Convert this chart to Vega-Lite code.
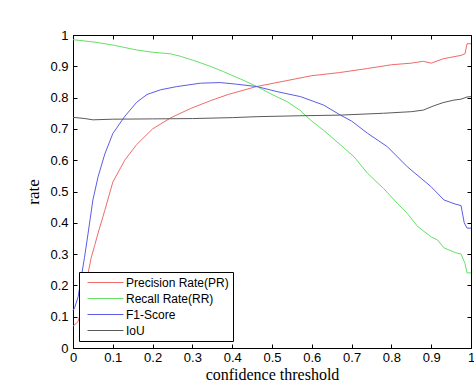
{
  "$schema": "https://vega.github.io/schema/vega-lite/v6.json",
  "width": 398,
  "height": 313,
  "autosize": "none",
  "padding": {"left": 73, "top": 35, "right": 3, "bottom": 33},
  "background": "white",
  "config": {"view": {"stroke": "black", "strokeWidth": 1}, "font": "Liberation Sans"},
  "data": {"values": [
    {"s": "Precision Rate(PR)", "t": 0, "v": 0.07}, {"s": "Precision Rate(PR)", "t": 0.005, "v": 0.075}, {"s": "Precision Rate(PR)", "t": 0.013, "v": 0.085}, {"s": "Precision Rate(PR)", "t": 0.02, "v": 0.12},
    {"s": "Precision Rate(PR)", "t": 0.03, "v": 0.19}, {"s": "Precision Rate(PR)", "t": 0.038, "v": 0.24}, {"s": "Precision Rate(PR)", "t": 0.046, "v": 0.29}, {"s": "Precision Rate(PR)", "t": 0.055, "v": 0.33},
    {"s": "Precision Rate(PR)", "t": 0.063, "v": 0.367}, {"s": "Precision Rate(PR)", "t": 0.08, "v": 0.44}, {"s": "Precision Rate(PR)", "t": 0.1, "v": 0.53}, {"s": "Precision Rate(PR)", "t": 0.13, "v": 0.6},
    {"s": "Precision Rate(PR)", "t": 0.16, "v": 0.65}, {"s": "Precision Rate(PR)", "t": 0.2, "v": 0.7}, {"s": "Precision Rate(PR)", "t": 0.245, "v": 0.735}, {"s": "Precision Rate(PR)", "t": 0.295, "v": 0.765},
    {"s": "Precision Rate(PR)", "t": 0.345, "v": 0.79}, {"s": "Precision Rate(PR)", "t": 0.39, "v": 0.81}, {"s": "Precision Rate(PR)", "t": 0.46, "v": 0.835}, {"s": "Precision Rate(PR)", "t": 0.54, "v": 0.855},
    {"s": "Precision Rate(PR)", "t": 0.6, "v": 0.87}, {"s": "Precision Rate(PR)", "t": 0.67, "v": 0.88}, {"s": "Precision Rate(PR)", "t": 0.74, "v": 0.893}, {"s": "Precision Rate(PR)", "t": 0.8, "v": 0.905},
    {"s": "Precision Rate(PR)", "t": 0.85, "v": 0.91}, {"s": "Precision Rate(PR)", "t": 0.88, "v": 0.916}, {"s": "Precision Rate(PR)", "t": 0.9, "v": 0.91}, {"s": "Precision Rate(PR)", "t": 0.93, "v": 0.924},
    {"s": "Precision Rate(PR)", "t": 0.975, "v": 0.935}, {"s": "Precision Rate(PR)", "t": 0.985, "v": 0.94}, {"s": "Precision Rate(PR)", "t": 0.99, "v": 0.972}, {"s": "Precision Rate(PR)", "t": 1, "v": 0.972},

    {"s": "Recall Rate(RR)", "t": 0, "v": 0.985}, {"s": "Recall Rate(RR)", "t": 0.05, "v": 0.978}, {"s": "Recall Rate(RR)", "t": 0.1, "v": 0.968}, {"s": "Recall Rate(RR)", "t": 0.16, "v": 0.952},
    {"s": "Recall Rate(RR)", "t": 0.2, "v": 0.945}, {"s": "Recall Rate(RR)", "t": 0.244, "v": 0.94}, {"s": "Recall Rate(RR)", "t": 0.27, "v": 0.932}, {"s": "Recall Rate(RR)", "t": 0.3, "v": 0.92},
    {"s": "Recall Rate(RR)", "t": 0.345, "v": 0.9}, {"s": "Recall Rate(RR)", "t": 0.378, "v": 0.883}, {"s": "Recall Rate(RR)", "t": 0.42, "v": 0.86}, {"s": "Recall Rate(RR)", "t": 0.463, "v": 0.835},
    {"s": "Recall Rate(RR)", "t": 0.5, "v": 0.81}, {"s": "Recall Rate(RR)", "t": 0.538, "v": 0.787}, {"s": "Recall Rate(RR)", "t": 0.57, "v": 0.76}, {"s": "Recall Rate(RR)", "t": 0.597, "v": 0.728},
    {"s": "Recall Rate(RR)", "t": 0.63, "v": 0.695}, {"s": "Recall Rate(RR)", "t": 0.672, "v": 0.649}, {"s": "Recall Rate(RR)", "t": 0.706, "v": 0.611}, {"s": "Recall Rate(RR)", "t": 0.74, "v": 0.558},
    {"s": "Recall Rate(RR)", "t": 0.78, "v": 0.51}, {"s": "Recall Rate(RR)", "t": 0.815, "v": 0.462}, {"s": "Recall Rate(RR)", "t": 0.84, "v": 0.43}, {"s": "Recall Rate(RR)", "t": 0.866, "v": 0.388},
    {"s": "Recall Rate(RR)", "t": 0.9, "v": 0.355}, {"s": "Recall Rate(RR)", "t": 0.916, "v": 0.345}, {"s": "Recall Rate(RR)", "t": 0.932, "v": 0.32}, {"s": "Recall Rate(RR)", "t": 0.96, "v": 0.305},
    {"s": "Recall Rate(RR)", "t": 0.975, "v": 0.3}, {"s": "Recall Rate(RR)", "t": 0.985, "v": 0.27}, {"s": "Recall Rate(RR)", "t": 0.99, "v": 0.24}, {"s": "Recall Rate(RR)", "t": 1, "v": 0.24},

    {"s": "F1-Score", "t": 0, "v": 0.12}, {"s": "F1-Score", "t": 0.004, "v": 0.128}, {"s": "F1-Score", "t": 0.013, "v": 0.164}, {"s": "F1-Score", "t": 0.021, "v": 0.228},
    {"s": "F1-Score", "t": 0.029, "v": 0.29}, {"s": "F1-Score", "t": 0.038, "v": 0.367}, {"s": "F1-Score", "t": 0.05, "v": 0.473}, {"s": "F1-Score", "t": 0.063, "v": 0.547},
    {"s": "F1-Score", "t": 0.08, "v": 0.62}, {"s": "F1-Score", "t": 0.1, "v": 0.685}, {"s": "F1-Score", "t": 0.13, "v": 0.74}, {"s": "F1-Score", "t": 0.16, "v": 0.785},
    {"s": "F1-Score", "t": 0.186, "v": 0.81}, {"s": "F1-Score", "t": 0.22, "v": 0.825}, {"s": "F1-Score", "t": 0.26, "v": 0.835}, {"s": "F1-Score", "t": 0.32, "v": 0.846},
    {"s": "F1-Score", "t": 0.37, "v": 0.848}, {"s": "F1-Score", "t": 0.41, "v": 0.843}, {"s": "F1-Score", "t": 0.463, "v": 0.835}, {"s": "F1-Score", "t": 0.513, "v": 0.819},
    {"s": "F1-Score", "t": 0.572, "v": 0.803}, {"s": "F1-Score", "t": 0.63, "v": 0.776}, {"s": "F1-Score", "t": 0.672, "v": 0.744}, {"s": "F1-Score", "t": 0.7, "v": 0.725},
    {"s": "F1-Score", "t": 0.74, "v": 0.686}, {"s": "F1-Score", "t": 0.79, "v": 0.643}, {"s": "F1-Score", "t": 0.84, "v": 0.579}, {"s": "F1-Score", "t": 0.9, "v": 0.515},
    {"s": "F1-Score", "t": 0.932, "v": 0.473}, {"s": "F1-Score", "t": 0.96, "v": 0.46}, {"s": "F1-Score", "t": 0.975, "v": 0.455}, {"s": "F1-Score", "t": 0.983, "v": 0.4},
    {"s": "F1-Score", "t": 0.99, "v": 0.383}, {"s": "F1-Score", "t": 1, "v": 0.383},

    {"s": "IoU", "t": 0, "v": 0.737}, {"s": "IoU", "t": 0.03, "v": 0.733}, {"s": "IoU", "t": 0.05, "v": 0.729}, {"s": "IoU", "t": 0.1, "v": 0.731},
    {"s": "IoU", "t": 0.2, "v": 0.732}, {"s": "IoU", "t": 0.3, "v": 0.733}, {"s": "IoU", "t": 0.4, "v": 0.736}, {"s": "IoU", "t": 0.46, "v": 0.739},
    {"s": "IoU", "t": 0.57, "v": 0.742}, {"s": "IoU", "t": 0.67, "v": 0.744}, {"s": "IoU", "t": 0.78, "v": 0.75}, {"s": "IoU", "t": 0.85, "v": 0.755},
    {"s": "IoU", "t": 0.88, "v": 0.76}, {"s": "IoU", "t": 0.907, "v": 0.774}, {"s": "IoU", "t": 0.93, "v": 0.784}, {"s": "IoU", "t": 0.957, "v": 0.792},
    {"s": "IoU", "t": 0.975, "v": 0.795}, {"s": "IoU", "t": 0.99, "v": 0.802}, {"s": "IoU", "t": 1, "v": 0.803}
  ]},
  "layer": [
    {
      "mark": {"type": "line", "strokeWidth": 1},
      "encoding": {
        "x": {
          "field": "t", "type": "quantitative",
          "scale": {"domain": [0, 1], "nice": false, "zero": false},
          "axis": {
            "orient": "bottom", "values": [0, 0.1, 0.2, 0.3, 0.4, 0.5, 0.6, 0.7, 0.8, 0.9, 1],
            "format": ".1~f", "grid": false, "domain": false, "offset": -4, "ticks": true, "tickSize": 4, "tickColor": "black", "tickWidth": 1,
            "labelFont": "Liberation Sans", "labelFontSize": 13, "labelColor": "black", "labelPadding": 3,
            "labelFlush": false, "labelOverlap": false,
            "title": "confidence threshold", "titleFont": "Liberation Serif", "titleFontSize": 16,
            "titleFontWeight": "normal", "titleColor": "black", "titlePadding": 2
          }
        },
        "y": {
          "field": "v", "type": "quantitative",
          "scale": {"domain": [0, 1], "nice": false},
          "axis": {
            "orient": "left", "values": [0, 0.1, 0.2, 0.3, 0.4, 0.5, 0.6, 0.7, 0.8, 0.9, 1],
            "format": ".1~f", "grid": false, "domain": false, "offset": -4, "ticks": true, "tickSize": 4, "tickColor": "black", "tickWidth": 1,
            "labelFont": "Liberation Sans", "labelFontSize": 13, "labelColor": "black", "labelPadding": 5,
            "labelFlush": false, "labelOverlap": false,
            "title": "rate", "titleFont": "Liberation Serif", "titleFontSize": 17,
            "titleFontWeight": "normal", "titleColor": "black", "titlePadding": 7
          }
        },
        "color": {
          "field": "s", "type": "nominal",
          "scale": {
            "domain": ["Precision Rate(PR)", "Recall Rate(RR)", "F1-Score", "IoU"],
            "range": ["#f06a6a", "#66e066", "#5c5ce6", "#5a5a5a"]
          },
          "legend": {
            "orient": "none", "legendX": 6, "legendY": 237, "title": null,
            "strokeColor": "black", "fillColor": "white", "padding": 4, "cornerRadius": 0,
            "symbolType": "M-0.333,0H5.667", "symbolSize": 144, "symbolStrokeWidth": 1,
            "labelFont": "Liberation Sans", "labelFontSize": 12, "labelColor": "black",
            "labelOffset": 30, "rowPadding": 3
          }
        }
      }
    },
    {
      "mark": {"type": "point", "opacity": 0},
      "encoding": {
        "x": {
          "field": "t", "type": "quantitative",
          "axis": {
            "orient": "top", "values": [0, 0.1, 0.2, 0.3, 0.4, 0.5, 0.6, 0.7, 0.8, 0.9, 1],
            "labels": false, "grid": false, "domain": false, "offset": -4, "tickSize": 4, "tickColor": "black", "tickWidth": 1, "title": null
          }
        },
        "y": {
          "field": "v", "type": "quantitative",
          "axis": {
            "orient": "right", "values": [0, 0.1, 0.2, 0.3, 0.4, 0.5, 0.6, 0.7, 0.8, 0.9, 1],
            "labels": false, "grid": false, "domain": false, "offset": -4, "tickSize": 4, "tickColor": "black", "tickWidth": 1, "title": null
          }
        }
      }
    }
  ],
  "resolve": {"axis": {"x": "independent", "y": "independent"}}
}
